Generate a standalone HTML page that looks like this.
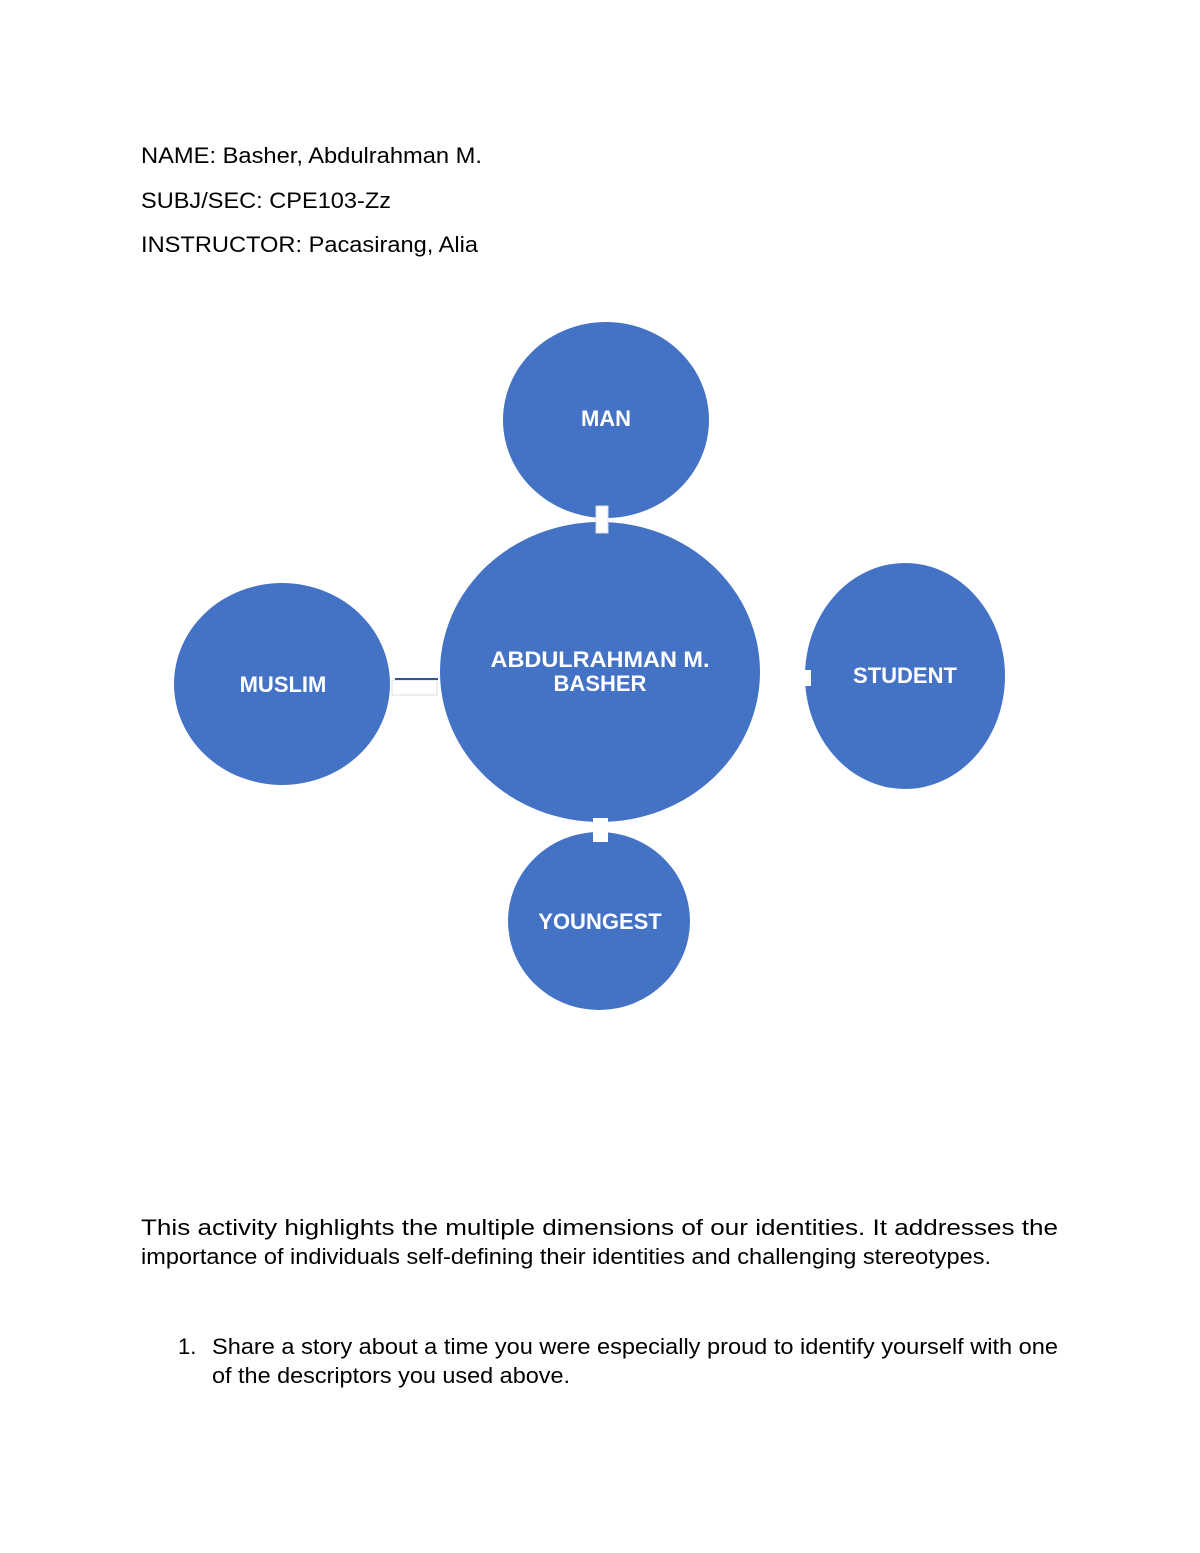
<!DOCTYPE html>
<html><head><meta charset="utf-8"><style>
html,body{margin:0;padding:0;background:#fff;}
svg{display:block;}
text{font-family:"Liberation Sans",Arial,sans-serif;}
</style></head><body>
<svg width="1200" height="1553" viewBox="0 0 1200 1553" xmlns="http://www.w3.org/2000/svg">
<rect width="1200" height="1553" fill="#fff"/>
<g font-size="22" fill="#000">
<text x="141" y="163" textLength="341" lengthAdjust="spacingAndGlyphs">NAME: Basher, Abdulrahman M.</text>
<text x="141" y="208" textLength="250" lengthAdjust="spacingAndGlyphs">SUBJ/SEC: CPE103-Zz</text>
<text x="141" y="252" textLength="337" lengthAdjust="spacingAndGlyphs">INSTRUCTOR: Pacasirang, Alia</text>
</g>
<g fill="#4472C4">
<ellipse cx="606" cy="420" rx="103" ry="98"/>
<ellipse cx="600" cy="672" rx="160" ry="150"/>
<ellipse cx="282" cy="684" rx="108" ry="101"/>
<ellipse cx="905" cy="676" rx="100" ry="113"/>
<ellipse cx="599" cy="921" rx="91" ry="89"/>
</g>
<rect x="596" y="506" width="12" height="27" fill="#fff" stroke="#ddd" stroke-width="1"/>
<rect x="593" y="818" width="15" height="24" fill="#fff"/>
<rect x="392" y="680" width="45" height="15" fill="#fff" stroke="#ddd" stroke-width="1"/>
<line x1="395" y1="679" x2="438" y2="679" stroke="#2F5597" stroke-width="2"/>
<rect x="803" y="670" width="8" height="16" fill="#fff"/>
<g fill="#fff" font-weight="bold" font-size="22" text-anchor="middle">
<text x="606" y="426">MAN</text>
<text x="600" y="667" textLength="219" lengthAdjust="spacingAndGlyphs">ABDULRAHMAN M.</text>
<text x="600" y="691">BASHER</text>
<text x="283" y="692">MUSLIM</text>
<text x="905" y="683">STUDENT</text>
<text x="600" y="929">YOUNGEST</text>
</g>
<g font-size="22" fill="#000">
<text x="141" y="1235" textLength="917" lengthAdjust="spacingAndGlyphs">This  activity  highlights  the  multiple  dimensions  of  our  identities.  It  addresses  the</text>
<text x="141" y="1264" textLength="850" lengthAdjust="spacingAndGlyphs">importance of individuals self-defining their identities and challenging stereotypes.</text>
<text x="178" y="1354">1.</text>
<text x="212" y="1354" textLength="846" lengthAdjust="spacingAndGlyphs">Share a story about a time you were especially proud to identify yourself with one</text>
<text x="212" y="1383" textLength="358" lengthAdjust="spacingAndGlyphs">of the descriptors you used above.</text>
</g>
</svg>
</body></html>
